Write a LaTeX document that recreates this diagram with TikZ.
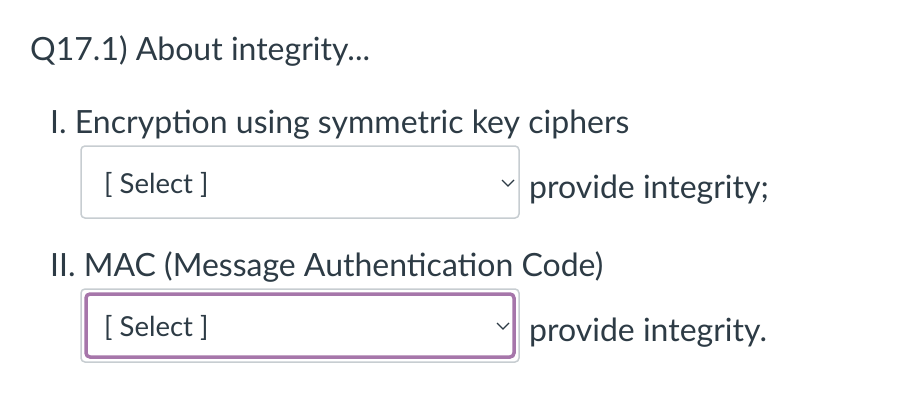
\documentclass[tikz,border=0pt]{standalone}
\usepackage{fontspec}
\setmainfont{Lato}
\definecolor{txt}{HTML}{2D3B45}
\definecolor{bord}{HTML}{C7CDD1}
\definecolor{purp}{HTML}{A676AA}
\tikzset{
 big/.style={anchor=base west,inner sep=0pt,text=txt,font=\fontsize{32}{38}\selectfont},
 sel/.style={anchor=base west,inner sep=0pt,text=txt,font=\fontsize{27.5}{32}\selectfont},
 box/.style={draw=bord,line width=1.5pt,rounded corners=4pt,fill=white},
 focus/.style={draw=purp,line width=3.5pt,rounded corners=4pt},
 chev/.style={draw=txt,line width=1.3pt}
}
\begin{document}
\begin{tikzpicture}[x=1pt,y=-1pt]
\useasboundingbox (0,0) rectangle (924,420);
\node[big] (t) at (30,60) {Q17.1) About integrity...};
\node[big] (q1) at (50,133) {I. Encryption using symmetric key ciphers};
\draw[box] (81,146) rectangle (519,218);
\node[sel] (s1) at (104,193) {[ Select ]};
\draw[chev] (502,180) -- (508,186) -- (514,180);
\node[big] (p1) at (529,198) {provide integrity;};
\node[big] (q2) at (50,276) {II. MAC (Message Authentication Code)};
\draw[box] (81,289) rectangle (519,362);
\draw[focus] (86,294) rectangle (514,357);
\node[sel] (s2) at (104,336) {[ Select ]};
\draw[chev] (497,323) -- (503,329) -- (509,323);
\node[big] (p2) at (529,341) {provide integrity.};
\end{tikzpicture}
\end{document}
